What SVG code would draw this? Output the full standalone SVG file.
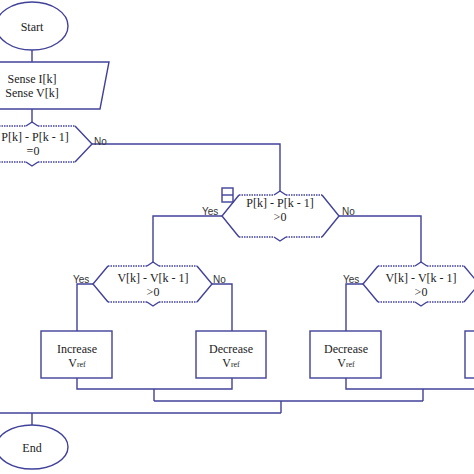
<svg xmlns="http://www.w3.org/2000/svg" width="474" height="474" viewBox="0 0 474 474">
<style>
.s{fill:#fff;stroke:#41419a;stroke-width:1.4}
.ln{fill:none;stroke:#41419a;stroke-width:1.4}
.dot{fill:none;stroke:#41419a;stroke-width:1.6;stroke-dasharray:1.5 1}
.t{font-family:"Liberation Serif","Times New Roman","DejaVu Serif",serif;font-size:12px;fill:#222;text-anchor:middle}
.l{font-family:"Liberation Sans",Arial,sans-serif;font-size:10px;fill:#333}
.sub{font-size:8px}
</style>
<rect width="474" height="474" fill="#fff"/>
<g id="connectors">
<path class="ln" d="M32 50V62M32 109V122M92 144H280V191M222 216H153V262M339 216H421V262M93 284H77V331M212 284H232V331M363 284H346V331M77 378V389H232V378M154 389V401M346 378V389H474M423 389V401M154 401H423M281 401V413M0 413H281M32 413V425"/>
</g>
<g id="start">
<ellipse class="s" cx="32" cy="26" rx="36" ry="24"/>
<text class="t" x="32" y="31">Start</text>
</g>
<g id="sense">
<polygon class="s" points="-10,62 109,62 100,109 -19,109"/>
<text class="t" x="32" y="83">Sense I[k]</text>
<text class="t" x="32" y="97">Sense V[k]</text>
</g>
<g id="dec1">
<path class="ln" d="M-11 126 L-28 144 L-11 162 M75 126 L92 144 L75 162 M26 126 L32 122 L38 126 M26 162 L32 166 L38 162"/>
<path class="dot" d="M-11 126H26M38 126H75M-11 162H26M38 162H75"/>
<text class="t" x="35" y="141">P[k] - P[k - 1]</text>
<text class="t" x="33" y="155">=0</text>
<text class="l" x="94" y="145">No</text>
</g>
<g id="dec2">
<path class="ln" d="M239 195 L222 216 L239 237 M322 195 L339 216 L322 237 M274 195 L280 191 L286 195 M274 237 L280 241 L286 237"/>
<path class="dot" d="M239 195H274M286 195H322M239 237H274M286 237H322"/>
<text class="t" x="280" y="207">P[k] - P[k - 1]</text>
<text class="t" x="280" y="221">&gt;0</text>
<text class="l" x="202" y="215">Yes</text>
<text class="l" x="342" y="215">No</text>
<rect class="s" x="222" y="188" width="11" height="14" stroke-width="1.1"/>
<line class="ln" x1="222" y1="195" x2="233" y2="195" stroke-width="1.1"/>
</g>
<g id="dec3">
<path class="ln" d="M108 266 L93 284 L108 302 M197 266 L212 284 L197 302 M147 266 L153 262 L159 266 M147 302 L153 306 L159 302"/>
<path class="dot" d="M108 266H147M159 266H197M108 302H147M159 302H197"/>
<text class="t" x="153" y="282">V[k] - V[k - 1]</text>
<text class="t" x="153" y="296">&gt;0</text>
<text class="l" x="73" y="283">Yes</text>
<text class="l" x="213" y="283">No</text>
</g>
<g id="dec4">
<path class="ln" d="M378 266 L363 284 L378 302 M464 266 L479 284 L464 302 M415 266 L421 262 L427 266 M415 302 L421 306 L427 302"/>
<path class="dot" d="M378 266H415M427 266H464M378 302H415M427 302H464"/>
<text class="t" x="421" y="282">V[k] - V[k - 1]</text>
<text class="t" x="421" y="296">&gt;0</text>
<text class="l" x="343" y="283">Yes</text>
</g>
<g id="increase1">
<rect class="s" x="41" y="331" width="71" height="47"/>
<text class="t" x="77" y="353">Increase</text>
<text class="t" x="77" y="367">V<tspan class="sub">ref</tspan></text>
</g>
<g id="decrease1">
<rect class="s" x="196" y="331" width="70" height="47"/>
<text class="t" x="231" y="353">Decrease</text>
<text class="t" x="231" y="367">V<tspan class="sub">ref</tspan></text>
</g>
<g id="decrease2">
<rect class="s" x="310" y="331" width="71" height="47"/>
<text class="t" x="346" y="353">Decrease</text>
<text class="t" x="346" y="367">V<tspan class="sub">ref</tspan></text>
</g>
<g id="increase2">
<rect class="s" x="465" y="331" width="71" height="47"/>
</g>
<g id="end">
<ellipse class="s" cx="32" cy="447" rx="36" ry="22"/>
<text class="t" x="32" y="452">End</text>
</g>
</svg>
